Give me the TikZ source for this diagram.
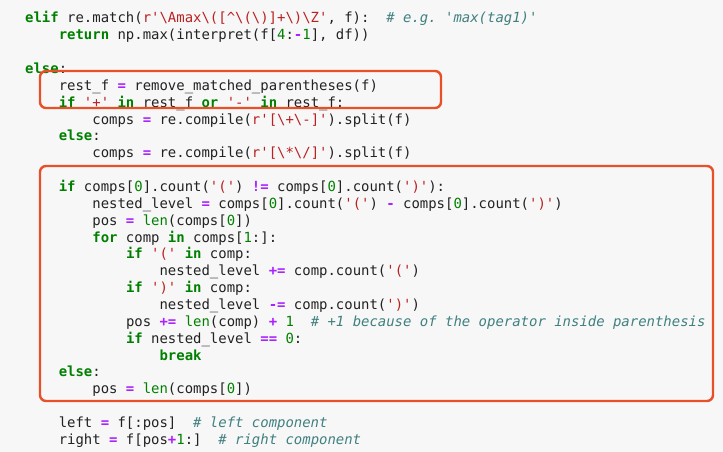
\documentclass[tikz,border=0pt]{standalone}
\usepackage{fontspec}
\setmonofont{DejaVu Sans Mono}
\definecolor{bg}{HTML}{F7F7F7}
\definecolor{kwc}{HTML}{008000}
\definecolor{stc}{HTML}{BA2121}
\definecolor{opc}{HTML}{AA22FF}
\definecolor{cmc}{HTML}{408080}
\definecolor{txc}{HTML}{222222}
\definecolor{boxc}{HTML}{E8502A}
\newcommand\kw[1]{{\color{kwc}\bfseries #1}}
\newcommand\bi[1]{{\color{kwc}#1}}
\newcommand\nm[1]{{\color{kwc}#1}}
\newcommand\st[1]{{\color{stc}#1}}
\newcommand\op[1]{{\color{opc}\bfseries #1}}
\newcommand\cm[1]{{\color{cmc}\itshape #1}}
\newcommand\bs{\textbackslash}
\tikzset{codeline/.style={anchor=base west,inner sep=0pt,text=txc,font=\ttfamily\fontsize{13.95}{16}\selectfont},
hl/.style={draw=boxc,line width=2.4pt,rounded corners=6pt}}
\newcommand\cl[4]{\node[codeline] (#1) at ({25+#3*8.4},{23+(#2-1)*16.85}) {#4};}
\begin{document}
\begin{tikzpicture}[x=1pt,y=-1pt]
\fill[bg] (0,0) rectangle (723,452);
\useasboundingbox (0,0) rectangle (723,452);
\cl{l1}{1}{0}{\kw{elif} re.match(\st{r'\bs Amax\bs([\textasciicircum\bs(\bs)]+\bs)\bs Z'}, f):~ \cm{\# e.g. 'max(tag1)'}}
\cl{l2}{2}{4}{\kw{return} np.max(interpret(f[\nm{4}:\op{-}\nm{1}], df))}
\cl{l4}{4}{0}{\kw{else}:}
\cl{l5}{5}{4}{rest\_f \op{=} remove\_matched\_parentheses(f)}
\cl{l6}{6}{4}{\kw{if} \st{'+'} \kw{in} rest\_f \kw{or} \st{'-'} \kw{in} rest\_f:}
\cl{l7}{7}{8}{comps \op{=} re.compile(\st{r'[\bs+\bs-]'}).split(f)}
\cl{l8}{8}{4}{\kw{else}:}
\cl{l9}{9}{8}{comps \op{=} re.compile(\st{r'[\bs*\bs/]'}).split(f)}
\cl{l11}{11}{4}{\kw{if} comps[\nm{0}].count(\st{'('}) \op{!=} comps[\nm{0}].count(\st{')'}):}
\cl{l12}{12}{8}{nested\_level \op{=} comps[\nm{0}].count(\st{'('}) \op{-} comps[\nm{0}].count(\st{')'})}
\cl{l13}{13}{8}{pos \op{=} \bi{len}(comps[\nm{0}])}
\cl{l14}{14}{8}{\kw{for} comp \kw{in} comps[\nm{1}:]:}
\cl{l15}{15}{12}{\kw{if} \st{'('} \kw{in} comp:}
\cl{l16}{16}{16}{nested\_level \op{+=} comp.count(\st{'('})}
\cl{l17}{17}{12}{\kw{if} \st{')'} \kw{in} comp:}
\cl{l18}{18}{16}{nested\_level \op{-=} comp.count(\st{')'})}
\cl{l19}{19}{12}{pos \op{+=} \bi{len}(comp) \op{+} \nm{1}~ \cm{\# +1 because of the operator inside parenthesis}}
\cl{l20}{20}{12}{\kw{if} nested\_level \op{==} \nm{0}:}
\cl{l21}{21}{16}{\kw{break}}
\cl{l22}{22}{4}{\kw{else}:}
\cl{l23}{23}{8}{pos \op{=} \bi{len}(comps[\nm{0}])}
\cl{l25}{25}{4}{left \op{=} f[:pos]~ \cm{\# left component}}
\cl{l26}{26}{4}{right \op{=} f[pos\op{+}\nm{1}:]~ \cm{\# right component}}
\draw[hl] (40,71) rectangle (441,108);
\draw[hl] (40,166) rectangle (713,401);
\end{tikzpicture}
\end{document}
